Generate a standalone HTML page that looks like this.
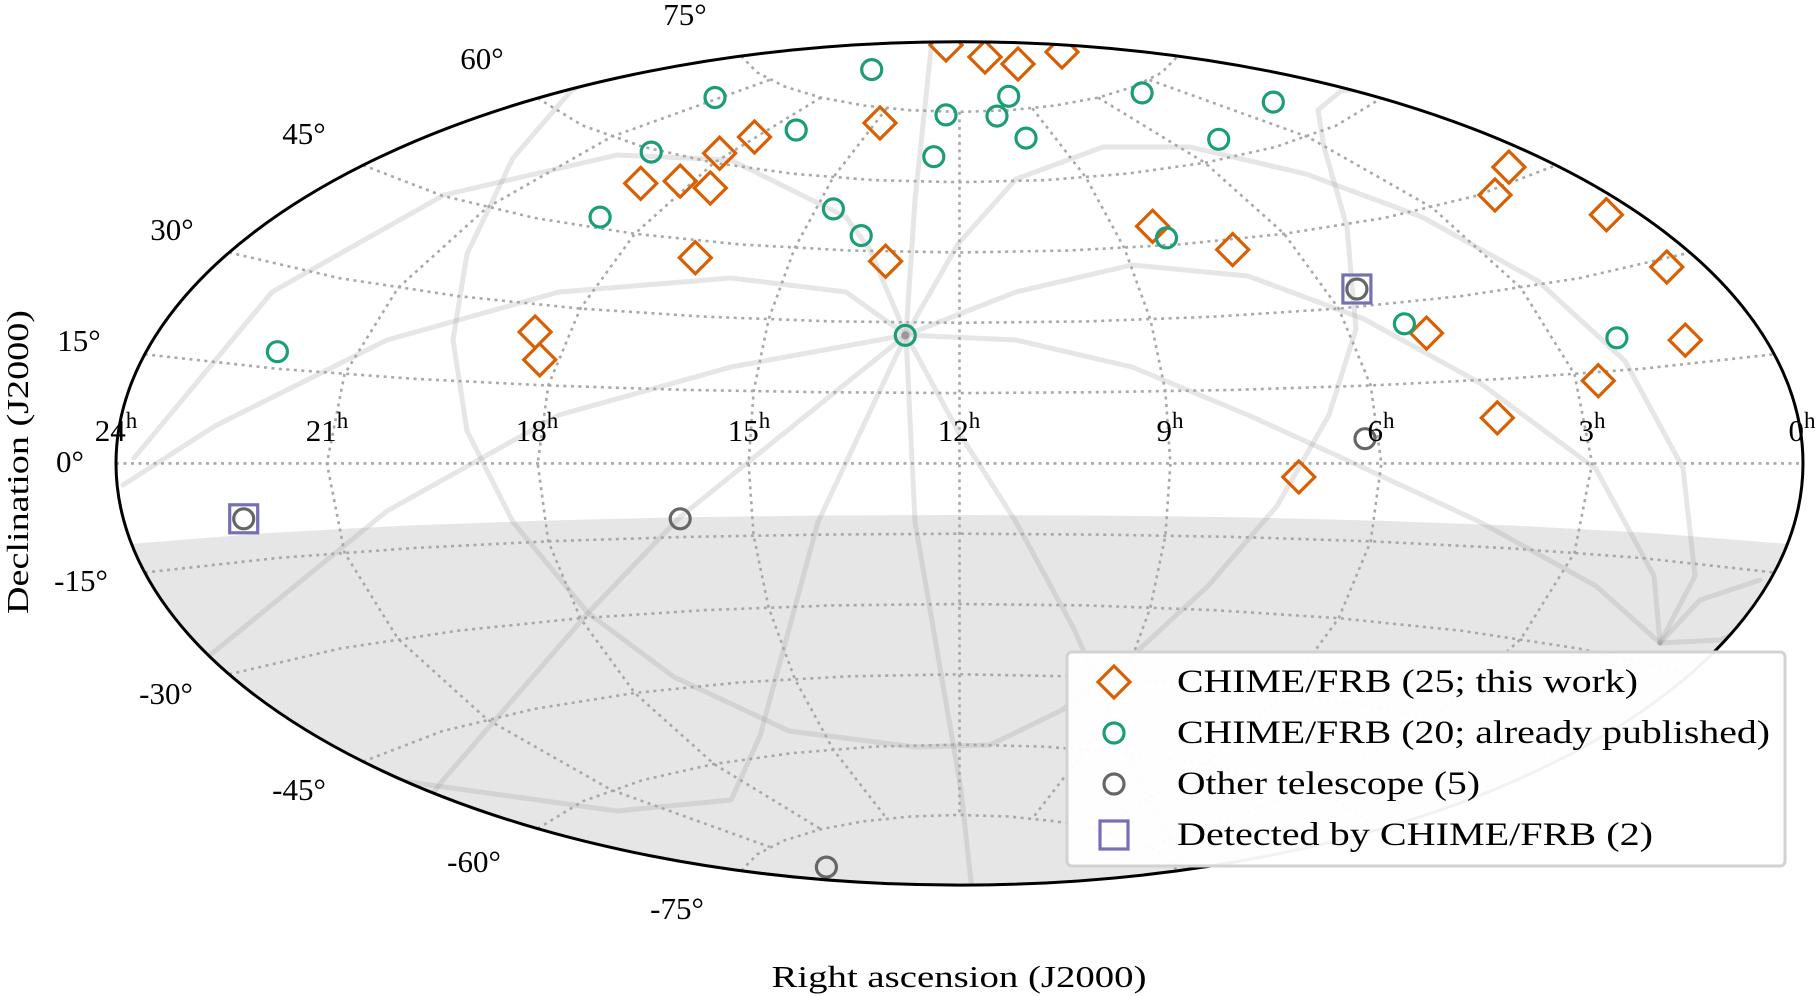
<!DOCTYPE html>
<html><head><meta charset="utf-8">
<style>html,body{margin:0;padding:0;background:#fff;}svg{display:block;}</style>
</head><body>
<svg width="1820" height="996" viewBox="0 0 1820 996" xmlns="http://www.w3.org/2000/svg" xmlns:xlink="http://www.w3.org/1999/xlink" font-family="'Liberation Serif', serif">
<defs>
<clipPath id="ce"><ellipse cx="959.5" cy="463.4" rx="843.5" ry="421.7"/></clipPath>
<path id="dm" d="M0 -16 L16 0 L0 16 L-16 0Z" fill="none" stroke="#d95f02" stroke-width="3.2"/>
<circle id="gc" r="10" fill="none" stroke="#1b9e77" stroke-width="3.2"/>
<circle id="kc" r="10" fill="none" stroke="#666" stroke-width="3.2"/>
<rect id="sq" x="-14" y="-14" width="28" height="28" fill="none" stroke="#7570b3" stroke-width="3.2"/>
</defs>
<g clip-path="url(#ce)">
<path d="M131.5 543.9 L267.8 533.0 L405.3 525.6 L543.4 520.6 L682.8 517.2 L820.7 515.5 L959.5 515.0 L1098.3 515.5 L1236.2 517.2 L1375.6 520.6 L1513.7 525.6 L1651.2 533.0 L1787.5 543.9 L1850 950 L60 950 Z" fill="#e6e6e6"/>
<g fill="none" stroke="rgba(150,150,150,0.24)" stroke-width="5" stroke-linejoin="round" stroke-linecap="round">
<path d="M590 80 L571 91 L513 158 L467 254 L453 340 L467 431 L513 522 L588 613 L674 677 L789 731 L915 747 L990 745 L1062 710 L1132 656 L1208 586 L1277 506 L1329 415 L1356 329 L1347 227 L1324 147 L1318 110 L1341 91 L1400 85"/>
<path d="M906 335 L1016 340 L1132 367 L1248 415 L1364 468 L1480 522 L1596 586 L1660 643"/>
<path d="M906 335 L958 244 L1016 179 L1103 147 L1190 147 L1306 174 L1422 217 L1538 281 L1625 361 L1683 468 L1695 576 L1660 643"/>
<path d="M906 335 L1016 292 L1132 265 L1248 276 L1364 319 L1480 383 L1596 469 L1654 576 L1660 643"/>
<path d="M906 335 L958 431 L1016 522 L1074 629 L1132 763 L1190 880"/>
<path d="M906 335 L680 517 L588 613 L444 779 L380 860"/>
<path d="M906 335 L731 367 L559 415 L387 511 L215 651 L150 700"/>
<path d="M906 335 L846 292 L731 278 L559 292 L387 340 L215 426 L123 485"/>
<path d="M906 335 L870 250 L846 217 L731 160 L617 155 L444 195 L272 292 L134 458"/>
<path d="M932 40 L915 200 L906 335 L915 522 L961 790 L973 900"/>
<path d="M906 335 L818 522 L760 736 L731 800 L617 811 L387 779 L250 720"/>
<path d="M1660 643 L1700 600 L1760 580"/>
<path d="M1660 643 L1720 640 L1790 610"/>
</g>
<g fill="none" stroke="#a8a8a8" stroke-width="2.6" stroke-dasharray="3 4.5">
<path d="M116 463.4 L1803 463.4"/>
<path d="M144.7 354.3 L277.4 368.8 L412.3 378.7 L548.3 385.5 L685.1 389.9 L822.0 392.2 L959.5 393.1 L1097.0 392.2 L1233.9 389.9 L1370.7 385.5 L1506.7 378.7 L1641.6 368.8 L1774.3 354.3"/>
<path d="M144.7 572.5 L277.4 558.0 L412.3 548.1 L548.3 541.3 L685.1 536.9 L822.0 534.6 L959.5 533.7 L1097.0 534.6 L1233.9 536.9 L1370.7 541.3 L1506.7 548.1 L1641.6 558.0 L1774.3 572.5"/>
<path d="M229 252.5 L339.7 278.2 L457.8 296.1 L580.3 308.6 L705.4 316.7 L832.2 321.4 L959.5 322.8 L1086.8 321.4 L1213.6 316.7 L1338.7 308.6 L1461.2 296.1 L1579.3 278.2 L1690 252.5"/>
<path d="M229 674.3 L339.7 648.6 L457.8 630.7 L580.3 618.2 L705.4 610.1 L832.2 605.4 L959.5 604.0 L1086.8 605.4 L1213.6 610.1 L1338.7 618.2 L1461.2 630.7 L1579.3 648.6 L1690 674.3"/>
<path d="M363 165.2 L442.1 195.6 L534.3 217.9 L634.8 233.8 L740.6 244.5 L849.3 250.5 L959.5 252.5 L1069.7 250.5 L1178.4 244.5 L1284.2 233.8 L1384.7 217.9 L1476.9 195.6 L1556 165.2"/>
<path d="M363 761.6 L442.1 731.2 L534.3 708.9 L634.8 693.0 L740.6 682.3 L849.3 676.3 L959.5 674.3 L1069.7 676.3 L1178.4 682.3 L1284.2 693.0 L1384.7 708.9 L1476.9 731.2 L1556 761.6"/>
<path d="M537.7 98.2 L582.6 125.5 L642.9 146.8 L714 162.8 L792.3 173.7 L874.8 180.2 L959.5 182.2 L1044.2 180.2 L1126.7 173.7 L1205 162.8 L1276.1 146.8 L1336.4 125.5 L1381.3 98.2"/>
<path d="M537.7 828.6 L582.6 801.3 L642.9 780.0 L714 764.0 L792.3 753.1 L874.8 746.6 L959.5 744.6 L1044.2 746.6 L1126.7 753.1 L1205 764.0 L1276.1 780.0 L1336.4 801.3 L1381.3 828.6"/>
<path d="M741.2 56 L757.2 72.5 L784.6 86.5 L820.9 97.6 L863.6 105.5 L910.5 110.3 L959.5 111.9 L1008.5 110.3 L1055.4 105.5 L1098.1 97.6 L1134.4 86.5 L1161.8 72.5 L1177.8 56"/>
<path d="M741.2 870.8 L757.2 854.3 L784.6 840.3 L820.9 829.2 L863.6 821.3 L910.5 816.5 L959.5 814.9 L1008.5 816.5 L1055.4 821.3 L1098.1 829.2 L1134.4 840.3 L1161.8 854.3 L1177.8 870.8"/>
<path d="M959.5 111.9 L959.5 814.9"/>
<path d="M886.7 108.3 L833.1 177.5 L794.7 248.1 L768.6 319.4 L753.6 391.3 L748.6 463.4 L753.6 535.5 L768.6 607.4 L794.7 678.7 L833.1 749.3 L886.7 818.5"/>
<path d="M1032.3 108.3 L1085.9 177.5 L1124.3 248.1 L1150.4 319.4 L1165.4 391.3 L1170.4 463.4 L1165.4 535.5 L1150.4 607.4 L1124.3 678.7 L1085.9 749.3 L1032.3 818.5"/>
<path d="M820.9 97.6 L714 162.8 L634.8 233.8 L580.3 308.6 L548.3 385.5 L537.7 463.4 L548.3 541.3 L580.3 618.2 L634.8 693.0 L714 764.0 L820.9 829.2"/>
<path d="M1098.1 97.6 L1205 162.8 L1284.2 233.8 L1338.7 308.6 L1370.7 385.5 L1381.3 463.4 L1370.7 541.3 L1338.7 618.2 L1284.2 693.0 L1205 764.0 L1098.1 829.2"/>
<path d="M769.6 79.9 L611.2 136.9 L486.9 207.6 L398 288 L344.5 374.2 L326.9 463.4 L344.5 552.6 L398 638.8 L486.9 719.2 L611.2 789.9 L769.6 846.9"/>
<path d="M1149.4 79.9 L1307.8 136.9 L1432.1 207.6 L1521 288 L1574.5 374.2 L1592.1 463.4 L1574.5 552.6 L1521 638.8 L1432.1 719.2 L1307.8 789.9 L1149.4 846.9"/>
</g>
<use xlink:href="#dm" x="946" y="45"/><use xlink:href="#dm" x="985" y="57"/><use xlink:href="#dm" x="1018" y="64"/><use xlink:href="#dm" x="1062" y="52"/>
<use xlink:href="#dm" x="880" y="123"/><use xlink:href="#dm" x="754.5" y="137"/><use xlink:href="#dm" x="719.6" y="153.2"/><use xlink:href="#dm" x="640.7" y="183.4"/>
<use xlink:href="#dm" x="680.2" y="181.1"/><use xlink:href="#dm" x="710.3" y="188"/><use xlink:href="#dm" x="695.3" y="257.7"/><use xlink:href="#dm" x="885.6" y="261.2"/>
<use xlink:href="#dm" x="535.1" y="332"/><use xlink:href="#dm" x="539.7" y="359.8"/><use xlink:href="#dm" x="1152.6" y="226.3"/><use xlink:href="#dm" x="1232.7" y="249.6"/>
<use xlink:href="#dm" x="1508.9" y="167.1"/><use xlink:href="#dm" x="1495" y="195"/><use xlink:href="#dm" x="1606.4" y="214.7"/><use xlink:href="#dm" x="1666.8" y="267"/>
<use xlink:href="#dm" x="1426.5" y="333.1"/><use xlink:href="#dm" x="1685.3" y="340.1"/><use xlink:href="#dm" x="1598.3" y="380.7"/><use xlink:href="#dm" x="1497.3" y="417.9"/>
<use xlink:href="#dm" x="1298.8" y="477"/>
<use xlink:href="#gc" x="715" y="97.5"/><use xlink:href="#gc" x="871.7" y="69.6"/><use xlink:href="#gc" x="796.2" y="130"/><use xlink:href="#gc" x="946" y="114.9"/>
<use xlink:href="#gc" x="1008.7" y="96.3"/><use xlink:href="#gc" x="997" y="116.1"/><use xlink:href="#gc" x="1026" y="138.1"/><use xlink:href="#gc" x="933.8" y="156.7"/>
<use xlink:href="#gc" x="651.2" y="152.1"/><use xlink:href="#gc" x="600.1" y="217.1"/><use xlink:href="#gc" x="833.4" y="208.9"/><use xlink:href="#gc" x="861.2" y="235.6"/>
<use xlink:href="#gc" x="905.3" y="335.4"/><use xlink:href="#gc" x="1142.1" y="92.9"/><use xlink:href="#gc" x="1273.3" y="102.1"/><use xlink:href="#gc" x="1218.7" y="139.3"/>
<use xlink:href="#gc" x="1166.5" y="237.9"/><use xlink:href="#gc" x="1404.4" y="323.8"/><use xlink:href="#gc" x="1616.9" y="337.8"/><use xlink:href="#gc" x="277.4" y="351.7"/>
<circle cx="905.3" cy="335.4" r="4" fill="#999"/>
<use xlink:href="#kc" x="1356.9" y="289"/><use xlink:href="#kc" x="1365" y="438.7"/><use xlink:href="#kc" x="680.2" y="518.8"/><use xlink:href="#kc" x="243.7" y="518.8"/><use xlink:href="#kc" x="826.4" y="867.1"/>
<use xlink:href="#sq" x="1356.9" y="289"/><use xlink:href="#sq" x="243.7" y="518.8"/>
</g>
<ellipse cx="959.5" cy="463.4" rx="843.5" ry="421.7" fill="none" stroke="#000" stroke-width="3"/>
<g font-size="31" fill="#000" text-anchor="middle">
<text x="685" y="25">75°</text>
<text x="482" y="69">60°</text>
<text x="304" y="144">45°</text>
<text x="172" y="240">30°</text>
<text x="79" y="351">15°</text>
<text x="70" y="472">0°</text>
<text x="81" y="591">-15°</text>
<text x="166" y="704">-30°</text>
<text x="299" y="800">-45°</text>
<text x="474" y="872">-60°</text>
<text x="677" y="919">-75°</text>
</g>
<g font-size="31" fill="#000" text-anchor="middle">
<text x="116" y="441">24<tspan dy="-13" font-size="23">h</tspan></text>
<text x="327" y="441">21<tspan dy="-13" font-size="23">h</tspan></text>
<text x="537" y="441">18<tspan dy="-13" font-size="23">h</tspan></text>
<text x="749" y="441">15<tspan dy="-13" font-size="23">h</tspan></text>
<text x="959" y="441">12<tspan dy="-13" font-size="23">h</tspan></text>
<text x="1170" y="441">9<tspan dy="-13" font-size="23">h</tspan></text>
<text x="1381" y="441">6<tspan dy="-13" font-size="23">h</tspan></text>
<text x="1592" y="441">3<tspan dy="-13" font-size="23">h</tspan></text>
<text x="1802" y="441">0<tspan dy="-13" font-size="23">h</tspan></text>
</g>
<text x="959" y="987" font-size="31" text-anchor="middle" textLength="375" lengthAdjust="spacingAndGlyphs">Right ascension (J2000)</text>
<text transform="translate(28,462) rotate(-90)" font-size="31" text-anchor="middle" textLength="304" lengthAdjust="spacingAndGlyphs">Declination (J2000)</text>
<rect x="1067" y="652" width="718" height="214" rx="5" fill="#fff" fill-opacity="0.95" stroke="#d2d2d2" stroke-width="3"/>
<use xlink:href="#dm" x="1114" y="682"/>
<use xlink:href="#gc" x="1114" y="733"/>
<use xlink:href="#kc" x="1114" y="784"/>
<use xlink:href="#sq" x="1114" y="835"/>
<g font-size="33" fill="#000">
<text x="1177" y="692" textLength="461" lengthAdjust="spacingAndGlyphs">CHIME/FRB (25; this work)</text>
<text x="1177" y="743" textLength="593" lengthAdjust="spacingAndGlyphs">CHIME/FRB (20; already published)</text>
<text x="1177" y="794" textLength="303" lengthAdjust="spacingAndGlyphs">Other telescope (5)</text>
<text x="1177" y="845" textLength="476" lengthAdjust="spacingAndGlyphs">Detected by CHIME/FRB (2)</text>
</g>
</svg>
</body></html>
